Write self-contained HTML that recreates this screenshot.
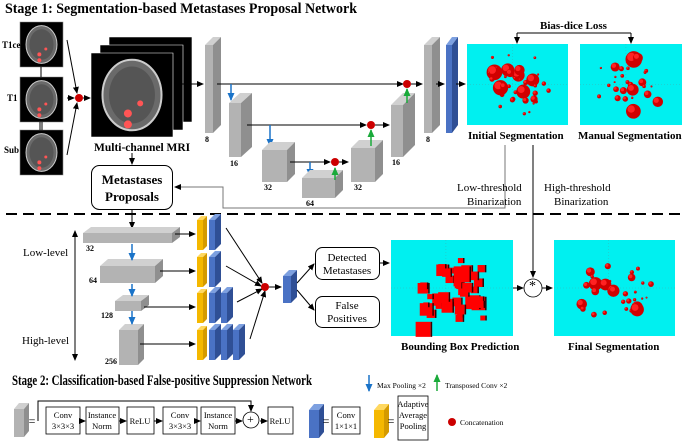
<!DOCTYPE html>
<html><head><meta charset="utf-8"><style>
body{margin:0;background:#fff}
svg{display:block}
text{font-family:"Liberation Serif",serif}
.b{font-weight:bold}
</style></head><body>
<svg id="s" width="685" height="441" viewBox="0 0 685 441" xmlns="http://www.w3.org/2000/svg">
<defs>
<marker id="ar" markerWidth="7" markerHeight="6" refX="6" refY="3" orient="auto" markerUnits="userSpaceOnUse"><path d="M0,0L7,3L0,6z" fill="#000"/></marker>
<marker id="ab" markerWidth="8" markerHeight="7" refX="7" refY="3.5" orient="auto" markerUnits="userSpaceOnUse"><path d="M0,0L8,3.5L0,7z" fill="#1a73c8"/></marker>
<marker id="ag" markerWidth="8" markerHeight="7" refX="7" refY="3.5" orient="auto" markerUnits="userSpaceOnUse"><path d="M0,0L8,3.5L0,7z" fill="#1aaa3a"/></marker>
</defs>
<g id="g"></g>
<text x="5" y="13" font-weight="bold" font-size="14.5" textLength="352" lengthAdjust="spacingAndGlyphs">Stage 1: Segmentation-based Metastases Proposal Network</text>
<text x="12" y="385" font-weight="bold" font-size="14.5" textLength="300" lengthAdjust="spacingAndGlyphs">Stage 2: Classification-based False-positive Suppression Network</text>
<g font-size="9">
<text x="2" y="48" font-weight="bold">T1ce</text>
<text x="7" y="101" font-weight="bold">T1</text>
<text x="4" y="153" font-weight="bold">Sub</text>
<text x="94" y="151" font-size="11.5" font-weight="bold">Multi-channel MRI</text>
<text x="205" y="142" font-weight="bold" font-size="8">8</text>
<text x="230" y="166" font-weight="bold" font-size="8">16</text>
<text x="264" y="190" font-weight="bold" font-size="8">32</text>
<text x="306" y="206" font-weight="bold" font-size="8">64</text>
<text x="354" y="190" font-weight="bold" font-size="8">32</text>
<text x="392" y="165" font-weight="bold" font-size="8">16</text>
<text x="426" y="142" font-weight="bold" font-size="8">8</text>
<text x="540" y="29" font-weight="bold" font-size="11">Bias-dice Loss</text>
<text x="468" y="139" font-weight="bold" font-size="11">Initial Segmentation</text>
<text x="578" y="139" font-weight="bold" font-size="11">Manual Segmentation</text>
<text x="401" y="350" font-weight="bold" font-size="11">Bounding Box Prediction</text>
<text x="568" y="350" font-weight="bold" font-size="11">Final Segmentation</text>
<text x="86" y="251" font-weight="bold" font-size="8">32</text>
<text x="89" y="283" font-weight="bold" font-size="8">64</text>
<text x="101" y="318" font-weight="bold" font-size="8">128</text>
<text x="105" y="364" font-weight="bold" font-size="8">256</text>
</g>
<g font-size="11">
<text x="457" y="191">Low-threshold</text>
<text x="467" y="205">Binarization</text>
<text x="544" y="191">High-threshold</text>
<text x="554" y="205">Binarization</text>
<text x="23" y="256">Low-level</text>
<text x="22" y="344">High-level</text>
</g>
<rect x="91.5" y="165.5" width="81" height="44" rx="8" fill="#fff" stroke="#000"/>
<text x="132" y="184" font-size="13" font-weight="bold" text-anchor="middle">Metastases</text>
<text x="132" y="201" font-size="13" font-weight="bold" text-anchor="middle">Proposals</text>
<rect x="315.5" y="247.5" width="64" height="32" rx="7" fill="#fff" stroke="#000"/>
<text x="347" y="261" font-size="11" text-anchor="middle">Detected</text>
<text x="347" y="274" font-size="11" text-anchor="middle">Metastases</text>
<rect x="315.5" y="296.5" width="64" height="31" rx="7" fill="#fff" stroke="#000"/>
<text x="347" y="309" font-size="11" text-anchor="middle">False</text>
<text x="347" y="322" font-size="11" text-anchor="middle">Positives</text>
<g fill="none" stroke="#000" stroke-width="0.8">
<rect x="46" y="407" width="34" height="27"/><rect x="86" y="407" width="33" height="27"/><rect x="127" y="407" width="27" height="27"/>
<rect x="163" y="407" width="34" height="27"/><rect x="201" y="407" width="34" height="27"/><rect x="268" y="407" width="25" height="27"/>
<rect x="332" y="407" width="28" height="27"/><rect x="398" y="396" width="30" height="44"/>
</g>
<g font-size="8.5" text-anchor="middle">
<text x="63" y="418">Conv</text><text x="63" y="429">3×3×3</text>
<text x="102" y="418">Instance</text><text x="102" y="429">Norm</text>
<text x="140" y="424">ReLU</text>
<text x="180" y="418">Conv</text><text x="180" y="429">3×3×3</text>
<text x="218" y="418">Instance</text><text x="218" y="429">Norm</text>
<text x="280" y="424">ReLU</text>
<text x="346" y="418">Conv</text><text x="346" y="429">1×1×1</text>
<text x="413" y="407">Adaptive</text><text x="413" y="418">Average</text><text x="413" y="429">Pooling</text>
<text x="32" y="425" font-size="12">=</text><text x="326" y="425" font-size="12">=</text><text x="391" y="425" font-size="12">=</text>
</g>
<g font-size="7.5">
<text x="377" y="388">Max Pooling ×2</text>
<text x="445" y="388">Transposed Conv ×2</text>
<text x="460" y="425">Concatenation</text>
</g>
</svg>
<script>
var g=document.getElementById('g'),h='';
function L(x1,y1,x2,y2,m,c,w,d){h+='<line x1="'+x1+'" y1="'+y1+'" x2="'+x2+'" y2="'+y2+'" stroke="'+(c||'#000')+'" stroke-width="'+(w||1)+'"'+(m?' marker-end="url(#'+m+')"':'')+(d?' stroke-dasharray="'+d+'"':'')+'/>';}
function P(d,f,s){h+='<path d="'+d+'" fill="'+f+'" stroke="'+(s||'none')+'" stroke-width="0.6"/>';}
function B(x,y,w,hh,dx,dy,f,t,sd){P('M'+x+','+y+'h'+w+'v'+hh+'h'+(-w)+'z',f);P('M'+x+','+y+'l'+dx+','+(-dy)+'h'+w+'l'+(-dx)+','+dy+'z',t);P('M'+(x+w)+','+y+'l'+dx+','+(-dy)+'v'+hh+'l'+(-dx)+','+dy+'z',sd);}
function G(x,y,w,hh,dx,dy){B(x,y,w,hh,dx,dy,'#b3b3b3','#d0d0d0','#8f8f8f');}
function BL(x,y,w,hh,dx,dy){B(x,y,w,hh,dx,dy,'#4a72c4','#7da0e0','#2f4f95');}
function Y(x,y,w,hh,dx,dy){B(x,y,w,hh,dx,dy,'#f5b800','#ffd860','#d49a00');}
function C(x,y,r,f){h+='<circle cx="'+x+'" cy="'+y+'" r="'+r+'" fill="'+f+'"/>';}
var seed=3;function R(){seed=(seed*9301+49297)%233280;return seed/233280;}
function cyan(x,y,w,hh,n,box){h+='<rect x="'+x+'" y="'+y+'" width="'+w+'" height="'+hh+'" fill="#00f0f0"/>';
L(x,y+hh*0.5,x+w,y+hh*0.5,0,'#4aa','0.4','1,2');L(x+w*0.45,y,x+w*0.45,y+hh*0.6,0,'#4aa','0.4','1,2');
for(var i=0;i<n;i++){var cx=x+w*(0.2+0.6*(R()+R())/2*1.2-0.05),cy=y+hh*(0.1+0.8*(R()+R())/2),r=1+R()*R()*8;
if(box){var s=r*1.8+3;P('M'+cx+','+cy+'h'+s+'v'+s+'h'+(-s)+'z','#f00');P('M'+(cx+s)+','+cy+'h1.5v'+s+'h-1.5z','#300');}
else{C(cx,cy,r,'#d00000');C(cx-r*0.3,cy-r*0.3,r*0.5,'#f22');}}}
function mri(x,y,w,hh,sm){if(sm)B(x,y,w,hh,6,6,'#000','#fff','#fff');P('M'+x+','+y+'h'+w+'v'+hh+'h'+(-w)+'z','#000',sm?'#888':'#fff');
h+='<ellipse cx="'+(x+w/2)+'" cy="'+(y+hh/2)+'" rx="'+w*0.36+'" ry="'+hh*0.42+'" fill="#6a6a6a" stroke="#ccc" stroke-width="'+(sm?1:2)+'"/>';
h+='<ellipse cx="'+(x+w/2)+'" cy="'+(y+hh/2)+'" rx="'+w*0.28+'" ry="'+hh*0.34+'" fill="#555"/>';
C(x+w*0.45,y+hh*0.72,sm?2:4,'#f55');C(x+w*0.45,y+hh*0.85,sm?2:4,'#f55');C(x+w*0.6,y+hh*0.6,sm?1.5:3,'#f55');}
function blk(x,y,w,hh){P('M'+x+','+y+'h'+w+'v'+hh+'h'+(-w)+'z','#000','#fff');}
mri(20,22,43,45,1);mri(20,77,43,45,1);mri(20,130,43,45,1);
L(41,67,41,77,0,'#000','1');L(40,122,40,130,0,'#000','1');L(42,122,42,130,0,'#000','1');
L(67,40,77,93,'ar');L(67,98,74,98,'ar');L(67,155,77,103,'ar');C(79,98,4,'#c00');L(83,98,90,98,'ar');
blk(109,37,83,85);blk(100,45,83,85);mri(91,53,82,84,0);
L(175,84,203,84,'ar');L(132,153,132,164,'ar');
G(205,45,8,88,8,8);L(217,84,403,84,'ar');L(231,84,231,100,'ab','#1a73c8',1.5);
G(229,103,12,54,11,10);L(247,125,366,125,'ar');L(270,125,270,146,'ab','#1a73c8',1.5);
G(262,150,25,32,8,8);L(290,162,330,162,'ar');L(310,162,310,176,'ab','#1a73c8',1.5);
G(302,178,33,20,8,8);L(335,180,335,168,'ag','#1aaa3a',1.5);C(335,162,4,'#c00');L(339,162,348,162,'ar');
G(351,148,24,34,8,8);L(371,146,371,130,'ag','#1aaa3a',1.5);C(371,125,4,'#c00');L(375,125,389,125,'ar');
G(391,105,12,52,12,12);L(407,103,407,89,'ag','#1aaa3a',1.5);C(407,84,4,'#c00');L(411,84,422,84,'ar');
G(424,45,8,88,8,8);L(436,84,444,84,'ar');BL(446,45,6,88,6,8);L(456,84,465,84,'ar');
cyan(467,44,101,81,38,0);seed=7;cyan(580,44,102,81,30,0);
L(517,33,631,33);L(517,33,517,43,'ar');L(631,33,631,43,'ar');
h+='<polyline points="505,145 505,208 223,208 223,187 176,187" fill="none" stroke="#777" stroke-width="1"/>';L(180,187,175,187,'ar');
L(533,145,533,277,'ar');
L(6,214,682,214,0,'#000','2','11,6');
L(132,210,132,228,'ar');
G(83,233,89,10,8,6);G(100,266,55,17,8,7);G(115,301,26,10,8,6);G(119,330,19,35,6,6);
L(132,244,132,260,'ab','#1a73c8',1.5);L(132,284,132,296,'ab','#1a73c8',1.5);L(132,311,132,324,'ab','#1a73c8',1.5);
L(75,236,75,356,0);L(75,236,75,231,'ar');L(75,356,75,360,'ar');
L(175,234,195,234,'ar');L(160,271,195,271,'ar');L(144,307,195,307,'ar');L(140,344,195,344,'ar');
var rows=[[234,1],[271,1],[307,2],[344,3]];
rows.forEach(function(r){var y0=r[0]-14;Y(197,y0,6,30,4,4);for(var k=0;k<r[1];k++)BL(209+k*12,y0,6,30,6,6);});
L(226,228,262,283,'ar');L(226,266,261,286,'ar');L(237,302,262,289,'ar');L(250,339,265,291,'ar');
C(265,287,4,'#c00');L(269,287,281,287,'ar');BL(283,276,8,27,6,6);
L(297,283,314,264,'ar');L(297,290,314,310,'ar');L(380,263,389,263,'ar');
seed=11;cyan(391,240,122,96,40,1);seed=5;cyan(554,240,121,96,32,0);
L(513,288,523,288,'ar');h+='<circle cx="533" cy="288" r="9" fill="#fff" stroke="#000" stroke-width="0.8"/>';
L(542,288,552,288,'ar');
G(14,409,10,28,5,6);
h+='<polyline points="38,421 38,401 251,401 251,411" fill="none" stroke="#000"/>';L(251,405,251,411,'ar');
L(80,421,85,421,'ar');L(119,421,126,421,'ar');L(154,421,162,421,'ar');L(197,421,200,421,'ar');L(235,421,242,421,'ar');
h+='<circle cx="251" cy="420" r="8" fill="#fff" stroke="#000" stroke-width="0.8"/>';L(260,421,267,421,'ar');
L(369,375,369,391,'ab','#1a73c8',1.5);L(437,391,437,375,'ag','#1aaa3a',1.5);
BL(309,410,10,28,5,6);Y(374,410,10,28,5,6);C(452,422,4,'#c00');
g.innerHTML=h;
</script>
<div style="position:absolute;left:529px;top:279px;font:14px 'Liberation Serif',serif">*</div>
<div style="position:absolute;left:247px;top:412px;font:12px 'Liberation Serif',serif">+</div>
</body></html>
